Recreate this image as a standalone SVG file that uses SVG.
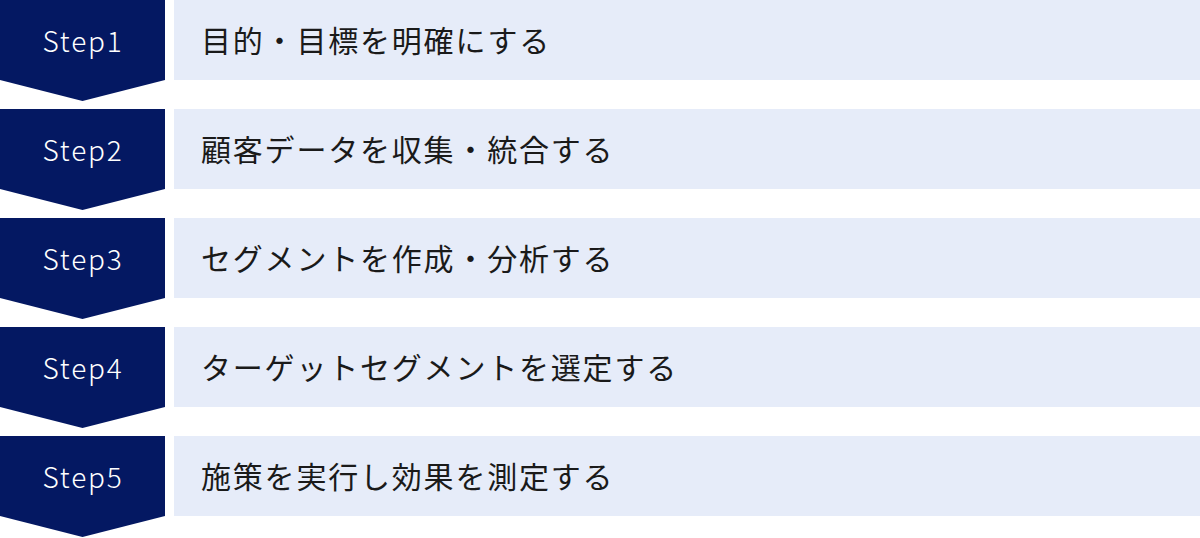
<svg xmlns="http://www.w3.org/2000/svg" width="1200" height="538" viewBox="0 0 1200 538">
<style>
.step{fill:#041862}
.box{fill:#E6ECF9}
.st{font-family:"Noto Sans CJK JP","Noto Sans",sans-serif;font-size:28px;font-weight:300;fill:#ffffff;letter-spacing:1.8px;text-anchor:middle}
.lb{font-family:"Noto Sans CJK JP","Noto Sans",sans-serif;font-size:30px;fill:#1a1a1a;letter-spacing:1.8px}
</style>
<rect width="1200" height="538" fill="#ffffff"/>
<g id="step1" transform="translate(0,0)">
<polygon class="step" points="0,0 165,0 165,80 82.5,101 0,80"/>
<rect class="box" x="174" y="0" width="1026" height="80"/>
<text class="st" x="83" y="51.5">Step1</text>
<text class="lb" x="201" y="51.5">目的・目標を明確にする</text>
</g>
<g id="step2" transform="translate(0,109)">
<polygon class="step" points="0,0 165,0 165,80 82.5,101 0,80"/>
<rect class="box" x="174" y="0" width="1026" height="80"/>
<text class="st" x="83" y="51.5">Step2</text>
<text class="lb" x="201" y="51.5">顧客データを収集・統合する</text>
</g>
<g id="step3" transform="translate(0,218)">
<polygon class="step" points="0,0 165,0 165,80 82.5,101 0,80"/>
<rect class="box" x="174" y="0" width="1026" height="80"/>
<text class="st" x="83" y="51.5">Step3</text>
<text class="lb" x="201" y="51.5">セグメントを作成・分析する</text>
</g>
<g id="step4" transform="translate(0,327)">
<polygon class="step" points="0,0 165,0 165,80 82.5,101 0,80"/>
<rect class="box" x="174" y="0" width="1026" height="80"/>
<text class="st" x="83" y="51.5">Step4</text>
<text class="lb" x="201" y="51.5">ターゲットセグメントを選定する</text>
</g>
<g id="step5" transform="translate(0,436)">
<polygon class="step" points="0,0 165,0 165,80 82.5,101 0,80"/>
<rect class="box" x="174" y="0" width="1026" height="80"/>
<text class="st" x="83" y="51.5">Step5</text>
<text class="lb" x="201" y="51.5">施策を実行し効果を測定する</text>
</g>
<g id="connectors"></g>
</svg>
